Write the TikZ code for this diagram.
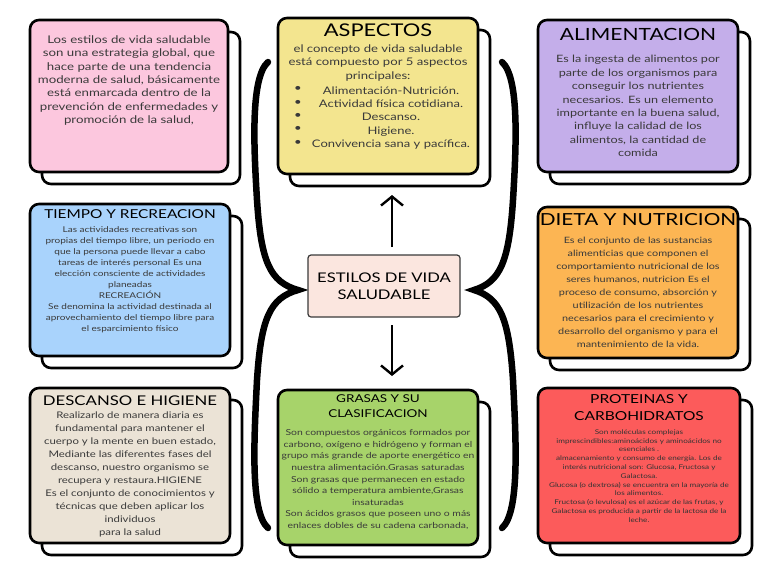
\documentclass[tikz,border=0pt]{standalone}
\usepackage{fontspec}
\setmainfont{Lato}[FakeStretch=1.25]
\usetikzlibrary{arrows.meta}
\definecolor{cpink}{HTML}{FCC7DE}
\definecolor{cyel}{HTML}{F3E58F}
\definecolor{cpur}{HTML}{C4AEEA}
\definecolor{cblue}{HTML}{A9D3FC}
\definecolor{corg}{HTML}{FCB553}
\definecolor{cbei}{HTML}{EBE3D6}
\definecolor{cgrn}{HTML}{A7D36A}
\definecolor{cred}{HTML}{FC5B5B}
\definecolor{ccen}{HTML}{FBE6DF}
\definecolor{txt}{HTML}{3A3A3A}
\tikzset{
 card/.style={draw=black,line width=2.6pt,rounded corners=9pt},
 shadowcard/.style={draw=black,fill=white,line width=2.6pt,rounded corners=9pt},
 body/.style={text=txt,align=center,font=\fontsize{8.6}{11}\selectfont},
 ttl/.style={text=black,font=\fontsize{16}{17}\selectfont},
 brace/.style={line width=6.5pt,line cap=round},
}
\newcommand{\mkcard}[5]{%
 \draw[shadowcard] (#1+12,#2+12) rectangle (#3+12,#4+12);
 \draw[card,fill=#5] (#1,#2) rectangle (#3,#4);}
\begin{document}
\begin{tikzpicture}[x=1pt,y=-1pt]
\useasboundingbox (0,0) rectangle (768,576);
\mkcard{30}{20}{228}{172}{cpink}
\mkcard{278}{18}{478}{174}{cyel}
\mkcard{538}{20}{738}{172}{cpur}
\mkcard{30}{204}{230}{356}{cblue}
\mkcard{538}{207}{738}{358}{corg}
\mkcard{30}{388}{230}{543}{cbei}
\mkcard{278}{390}{478}{545}{cgrn}
\mkcard{538}{388}{740}{543}{cred}
% braces
\draw[brace] (268,62) .. controls (250,78) and (254,150) .. (257,200) .. controls (261,262) and (270,282) .. (298,290) .. controls (270,298) and (261,318) .. (257,380) .. controls (254,440) and (250,512) .. (268,528);
\draw[brace] (502,62) .. controls (520,78) and (516,150) .. (513,200) .. controls (509,262) and (500,282) .. (474,290) .. controls (500,298) and (509,318) .. (513,380) .. controls (516,440) and (520,512) .. (502,528);
% center
\node[draw=txt,line width=1.2pt,fill=ccen,rounded corners=3pt,minimum width=152pt,minimum height=62pt,align=center,font=\fontsize{13.3}{17}\selectfont,text=black] (c) at (384,286) {ESTILOS DE VIDA\\SALUDABLE};
\coordinate (up) at (392,195);
\coordinate (dn) at (392,376);
\draw[line width=2.4pt,-{Straight Barb[length=9pt,width=22pt]}] (392,247) -- (up);
\draw[line width=2.4pt,-{Straight Barb[length=9pt,width=22pt]}] (392,325) -- (dn);
% texts
\node[body,font=\fontsize{10.6}{13.4}\selectfont,anchor=north] (t1) at (129,32) {Los estilos de vida saludable\\son una estrategia global, que\\hace parte de una tendencia\\moderna de salud, básicamente\\está enmarcada dentro de la\\prevención de enfermedades y\\promoción de la salud,};
\node[ttl,font=\fontsize{17.5}{18}\selectfont,anchor=north] (t2) at (378,20) {ASPECTOS};
\node[body,font=\fontsize{10.5}{13.4}\selectfont,anchor=north] (t2b) at (378,41) {el concepto de vida saludable\\está compuesto por 5 aspectos\\principales:};
\node[body,font=\fontsize{10.5}{13.4}\selectfont,anchor=north,align=left] (t2c) at (298,83) {•\\•\\•\\•\\•};
\node[body,font=\fontsize{10.4}{13.4}\selectfont,anchor=north] (t2d) at (391,83) {Alimentación-Nutrición.\\Actividad física cotidiana.\\Descanso.\\Higiene.\\Convivencia sana y pacífica.};
\node[ttl,font=\fontsize{16.8}{18}\selectfont,anchor=north] (t3) at (638,25) {ALIMENTACION};
\node[body,font=\fontsize{10.1}{13.4}\selectfont,anchor=north] (t3b) at (638,52) {Es la ingesta de alimentos por\\parte de los organismos para\\conseguir los nutrientes\\necesarios. Es un elemento\\importante en la buena salud,\\influye la calidad de los\\alimentos, la cantidad de\\comida};
\node[ttl,font=\fontsize{12.3}{14}\selectfont,anchor=north] (t4) at (130,206) {TIEMPO Y RECREACION};
\node[body,font=\fontsize{8}{11}\selectfont,anchor=north] (t4b) at (130,223) {Las actividades recreativas son\\propias del tiempo libre, un periodo en\\que la persona puede llevar a cabo\\tareas de interés personal Es una\\elección consciente de actividades\\planeadas\\RECREACIÓN\\Se denomina la actividad destinada al\\aprovechamiento del tiempo libre para\\el esparcimiento físico};
\node[ttl,font=\fontsize{16.6}{18}\selectfont,anchor=north] (t5) at (638,210) {DIETA Y NUTRICION};
\node[body,font=\fontsize{8.7}{13}\selectfont,anchor=north] (t5b) at (638,234) {Es el conjunto de las sustancias\\alimenticias que componen el\\comportamiento nutricional de los\\seres humanos, nutricion Es el\\proceso de consumo, absorción y\\utilización de los nutrientes\\necesarios para el crecimiento y\\desarrollo del organismo y para el\\mantenimiento de la vida.};
\node[ttl,font=\fontsize{13.4}{14}\selectfont,anchor=north] (t6) at (130,392) {DESCANSO E HIGIENE};
\node[body,font=\fontsize{9.1}{13}\selectfont,anchor=north] (t6b) at (130,408) {Realizarlo de manera diaria es\\fundamental para mantener el\\cuerpo y la mente en buen estado,\\Mediante las diferentes fases del\\descanso, nuestro organismo se\\recupera y restaura.HIGIENE\\Es el conjunto de conocimientos y\\técnicas que deben aplicar los\\individuos\\para la salud};
\node[ttl,font=\fontsize{10.8}{15}\selectfont,anchor=north,align=center] (t7) at (378,391) {GRASAS Y SU\\CLASIFICACION};
\node[body,font=\fontsize{8.3}{11.6}\selectfont,anchor=north] (t7b) at (378,426) {Son compuestos orgánicos formados por\\carbono, oxígeno e hidrógeno y forman el\\grupo más grande de aporte energético en\\nuestra alimentación.Grasas saturadas\\Son grasas que permanecen en estado\\sólido a temperatura ambiente,Grasas\\insaturadas\\Son ácidos grasos que poseen uno o más\\enlaces dobles de su cadena carbonada,};
\node[ttl,font=\fontsize{12.4}{17}\selectfont,anchor=north,align=center] (t8) at (639,391) {PROTEINAS Y\\CARBOHIDRATOS};
\node[body,font=\fontsize{6.5}{8.8}\selectfont,anchor=north,text=black!80] (t8b) at (639,426) {Son moléculas complejas\\imprescindibles:aminoácidos y aminoácidos no\\esenciales .\\almacenamiento y consumo de energía. Los de\\interés nutricional son: Glucosa, Fructosa y\\Galactosa.\\Glucosa (o dextrosa) se encuentra en la mayoría de\\los alimentos.\\Fructosa (o levulosa) es el azúcar de las frutas, y\\Galactosa es producida a partir de la lactosa de la\\leche.};
\end{tikzpicture}
\end{document}
